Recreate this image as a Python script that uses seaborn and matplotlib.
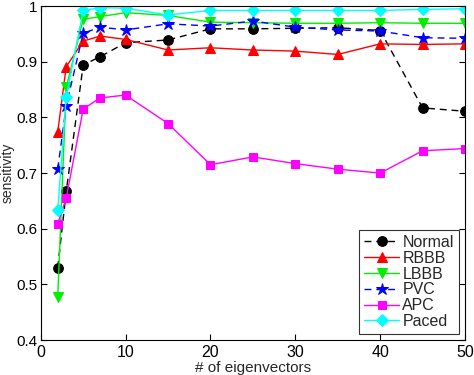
import numpy as np
import pandas as pd
import matplotlib
matplotlib.use("Agg")
import matplotlib.pyplot as plt
import seaborn as sns

# number of eigenvectors
eig = [2, 3, 5, 7, 10, 15, 20, 25, 30, 35, 40, 45, 50]

normal = [0.53, 0.667, 0.894, 0.909, 0.934, 0.939, 0.959, 0.959, 0.960, 0.961, 0.956, 0.817, 0.811]
rbbb = [0.774, 0.891, 0.937, 0.946, 0.940, 0.921, 0.925, 0.921, 0.919, 0.913, 0.932, 0.931, 0.932]
lbbb = [0.478, 0.854, 0.976, 0.981, 0.988, 0.983, 0.971, 0.970, 0.969, 0.969, 0.970, 0.969, 0.969]
pvc = [0.707, 0.821, 0.951, 0.962, 0.957, 0.968, 0.964, 0.973, 0.962, 0.957, 0.955, 0.943, 0.942]
apc = [0.609, 0.655, 0.815, 0.835, 0.840, 0.789, 0.715, 0.729, 0.717, 0.707, 0.700, 0.740, 0.744]
paced = [0.633, 0.837, 0.992, 0.997, 0.996, 0.984, 0.992, 0.992, 0.992, 0.992, 0.992, 0.994, 0.995]

labels = ["Normal", "RBBB", "LBBB", "PVC", "APC", "Paced"]
series = [normal, rbbb, lbbb, pvc, apc, paced]

colors = ["black", "red", "#00ee00", "blue", "magenta", "cyan"]
markers = ["o", "^", "v", "*", "s", "D"]
dashed = [True, False, False, True, False, False]
msizes = [7, 7, 7, 9, 6, 6]

sns.set_style("white")
plt.rcParams["font.family"] = ["Liberation Sans", "DejaVu Sans"]

fig = plt.figure(figsize=(4.74, 3.75), dpi=100)
ax = fig.add_axes([0.086, 0.093, 0.895, 0.891])

for lab, vals, c, m, d, ms in zip(labels, series, colors, markers, dashed, msizes):
    df = pd.DataFrame({"x": eig, "y": vals})
    line_kw = {"dashes": (5, 3.5)} if d else {"linestyle": "-"}
    sns.lineplot(data=df, x="x", y="y", ax=ax, color=c, marker=m,
                 markersize=ms, markeredgecolor=c, linewidth=1.0, label=lab, **line_kw)

ax.set_xlim(0, 50)
ax.set_ylim(0.4, 1.0)
ax.set_xticks(range(0, 51, 10))
ax.set_yticks([0.4, 0.5, 0.6, 0.7, 0.8, 0.9, 1.0])
ax.set_yticklabels(["0.4", "0.5", "0.6", "0.7", "0.8", "0.9", "1"])
ax.tick_params(direction="in", length=4, labelsize=11.5, top=True, right=True,
               bottom=True, left=True, colors="black")
ax.tick_params(axis="y", labelsize=11, pad=2.5)
for s in ax.spines.values():
    s.set_color("black")
    s.set_linewidth(0.8)
ax.set_xlabel("# of eigenvectors", fontsize=11, labelpad=1)
ax.set_ylabel("sensitivity", fontsize=10)
ax.yaxis.set_label_coords(-0.062, 0.5)

leg = ax.legend(loc="lower right", fontsize=11.5, frameon=True, fancybox=False,
                edgecolor="black", handlelength=2.2, handletextpad=0.2,
                labelspacing=0.05, borderpad=0.3, borderaxespad=0.4)
leg.get_frame().set_linewidth(0.8)

fig.savefig("out.png", dpi=100)
